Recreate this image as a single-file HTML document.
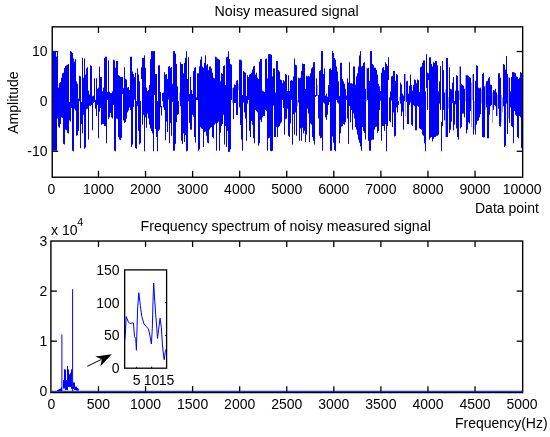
<!DOCTYPE html>
<html><head><meta charset="utf-8"><style>
html,body{margin:0;padding:0;background:#fff;width:550px;height:437px;overflow:hidden}
svg{display:block}
</style></head><body>
<svg width="550" height="437" viewBox="0 0 550 437"><g font-family="&quot;Liberation Sans&quot;, Arial, sans-serif" font-size="14" fill="#000">
<text x="286.6" y="15.5" text-anchor="middle" font-size="14.25">Noisy measured signal</text>
<text x="285.7" y="230.5" text-anchor="middle" font-size="14.2">Frequency spectrum of noisy measured signal</text>
<rect x="52.22" y="26.84" width="470.45" height="150.39" fill="none" stroke="#000" stroke-width="1.4"/>
<text x="51.40" y="194" text-anchor="middle">0</text>
<line x1="98.47" y1="177.23" x2="98.47" y2="170.83" stroke="#000" stroke-width="1.3"/>
<line x1="98.47" y1="26.84" x2="98.47" y2="32.84" stroke="#000" stroke-width="1.3"/>
<text x="98.47" y="194" text-anchor="middle">1000</text>
<line x1="145.54" y1="177.23" x2="145.54" y2="170.83" stroke="#000" stroke-width="1.3"/>
<line x1="145.54" y1="26.84" x2="145.54" y2="32.84" stroke="#000" stroke-width="1.3"/>
<text x="145.54" y="194" text-anchor="middle">2000</text>
<line x1="192.61" y1="177.23" x2="192.61" y2="170.83" stroke="#000" stroke-width="1.3"/>
<line x1="192.61" y1="26.84" x2="192.61" y2="32.84" stroke="#000" stroke-width="1.3"/>
<text x="192.61" y="194" text-anchor="middle">3000</text>
<line x1="239.68" y1="177.23" x2="239.68" y2="170.83" stroke="#000" stroke-width="1.3"/>
<line x1="239.68" y1="26.84" x2="239.68" y2="32.84" stroke="#000" stroke-width="1.3"/>
<text x="239.68" y="194" text-anchor="middle">4000</text>
<line x1="286.75" y1="177.23" x2="286.75" y2="170.83" stroke="#000" stroke-width="1.3"/>
<line x1="286.75" y1="26.84" x2="286.75" y2="32.84" stroke="#000" stroke-width="1.3"/>
<text x="286.75" y="194" text-anchor="middle">5000</text>
<line x1="333.82" y1="177.23" x2="333.82" y2="170.83" stroke="#000" stroke-width="1.3"/>
<line x1="333.82" y1="26.84" x2="333.82" y2="32.84" stroke="#000" stroke-width="1.3"/>
<text x="333.82" y="194" text-anchor="middle">6000</text>
<line x1="380.89" y1="177.23" x2="380.89" y2="170.83" stroke="#000" stroke-width="1.3"/>
<line x1="380.89" y1="26.84" x2="380.89" y2="32.84" stroke="#000" stroke-width="1.3"/>
<text x="380.89" y="194" text-anchor="middle">7000</text>
<line x1="427.96" y1="177.23" x2="427.96" y2="170.83" stroke="#000" stroke-width="1.3"/>
<line x1="427.96" y1="26.84" x2="427.96" y2="32.84" stroke="#000" stroke-width="1.3"/>
<text x="427.96" y="194" text-anchor="middle">8000</text>
<line x1="475.03" y1="177.23" x2="475.03" y2="170.83" stroke="#000" stroke-width="1.3"/>
<line x1="475.03" y1="26.84" x2="475.03" y2="32.84" stroke="#000" stroke-width="1.3"/>
<text x="475.03" y="194" text-anchor="middle">9000</text>
<text x="522.10" y="194" text-anchor="middle">10000</text>
<line x1="52.22" y1="151.27" x2="58.22" y2="151.27" stroke="#000" stroke-width="1.3"/>
<line x1="522.67" y1="151.27" x2="516.67" y2="151.27" stroke="#000" stroke-width="1.3"/>
<text x="47.5" y="155.87" text-anchor="end">-10</text>
<line x1="52.22" y1="101.40" x2="58.22" y2="101.40" stroke="#000" stroke-width="1.3"/>
<line x1="522.67" y1="101.40" x2="516.67" y2="101.40" stroke="#000" stroke-width="1.3"/>
<text x="47.5" y="106.00" text-anchor="end">0</text>
<line x1="52.22" y1="51.53" x2="58.22" y2="51.53" stroke="#000" stroke-width="1.3"/>
<line x1="522.67" y1="51.53" x2="516.67" y2="51.53" stroke="#000" stroke-width="1.3"/>
<text x="47.5" y="56.13" text-anchor="end">10</text>
<path d="M53.5 51.1V150.7M54.5 51.1V150.7M55.5 51.1V150.7M56.5 56.6V150.7M57.5 51.1V118.5M58.5 87.6V126.6M59.5 83.2V127.8M60.5 82.0V124.1M61.5 77.7V117.3M62.5 73.3V118.0M63.5 72.7V143.9M64.5 67.8V144.5M65.5 65.9V129.7M66.5 65.3V130.3M67.5 64.7V132.8M68.5 64.0V133.4M69.5 102.0V120.4M70.5 51.1V121.6M71.5 51.7V108.0M72.5 53.0V150.7M73.5 58.5V151.3M74.5 61.6V108.7M75.5 59.1V110.5M76.5 81.4V135.8M77.5 83.8V135.2M78.5 98.7V130.9M79.5 75.8V101.2M80.5 76.4V148.2M81.5 102.0V124.1M82.5 57.9V133.4M83.5 77.7V114.8M84.5 58.5V148.8M85.5 74.6V147.6M86.5 68.4V109.3M87.5 67.2V108.7M88.5 90.6V139.6M89.5 94.4V105.6M90.5 65.3V106.2M91.5 65.9V105.0M92.5 96.2V130.3M93.5 95.6V103.0M94.5 78.3V101.9M95.5 99.9V108.7M96.5 78.3V116.0M97.5 88.8V105.0M98.5 87.6V138.3M99.5 66.5V111.7M100.5 77.0V108.0M101.5 77.0V124.7M102.5 91.3V124.1M103.5 87.6V124.1M104.5 57.9V126.0M105.5 56.7V126.0M106.5 56.7V143.3M107.5 92.0V100.0M108.5 60.4V119.2M109.5 91.9V117.3M110.5 93.1V113.0M111.5 93.1V117.3M112.5 91.3V118.5M113.5 59.7V105.0M114.5 60.4V150.7M115.5 67.8V151.3M116.5 61.0V118.5M117.5 61.0V119.2M118.5 75.2V137.0M119.5 75.8V139.6M120.5 77.0V140.2M121.5 77.0V137.7M122.5 77.0V94.0M123.5 88.0V120.4M124.5 67.2V122.9M125.5 78.9V122.2M126.5 79.5V118.5M127.5 87.6V112.4M128.5 87.0V110.5M129.5 90.0V107.4M130.5 56.7V109.9M131.5 56.7V147.0M132.5 71.5V144.5M133.5 74.0V107.0M134.5 77.0V99.6M135.5 72.7V148.2M136.5 101.0V148.8M137.5 68.4V106.2M138.5 74.6V130.9M139.5 81.4V144.5M140.5 101.0V143.3M141.5 67.2V79.0M142.5 57.9V124.7M143.5 57.9V114.8M144.5 55.4V151.3M145.5 67.8V117.3M146.5 87.6V127.8M147.5 91.3V113.6M148.5 90.0V118.5M149.5 85.0V124.7M150.5 59.1V128.4M151.5 51.1V130.9M152.5 51.1V133.4M153.5 51.1V151.3M154.5 51.1V95.0M155.5 74.0V129.0M156.5 74.0V137.0M157.5 101.0V151.3M158.5 65.3V130.9M159.5 65.3V129.7M160.5 91.9V107.4M161.5 106.0V115.5M162.5 93.0V101.2M163.5 92.5V107.4M164.5 72.1V110.0M165.5 74.6V140.2M166.5 74.0V121.6M167.5 78.9V132.1M168.5 66.5V99.6M169.5 65.9V143.3M170.5 67.8V122.9M171.5 67.2V135.8M172.5 83.8V101.9M173.5 51.1V150.7M174.5 51.1V150.7M175.5 53.6V143.9M176.5 64.0V122.2M177.5 86.3V114.8M178.5 101.0V114.2M180.5 62.2V106.2M181.5 64.0V140.8M182.5 64.0V143.9M183.5 73.3V133.4M184.5 62.8V142.0M185.5 57.9V135.2M186.5 51.1V151.3M187.5 78.9V150.7M188.5 57.3V101.2M189.5 94.0V122.9M190.5 77.0V129.7M191.5 90.0V129.7M192.5 94.0V114.8M193.5 70.9V116.7M194.5 67.8V137.0M195.5 67.2V142.6M196.5 97.4V100.0M197.5 73.3V100.0M198.5 73.3V150.7M199.5 66.5V149.4M200.5 59.7V127.2M201.5 56.7V128.4M202.5 66.5V129.0M203.5 67.8V147.0M204.5 62.8V132.1M205.5 55.4V131.5M206.5 65.3V135.8M207.5 64.0V142.6M208.5 70.2V143.3M209.5 66.5V129.7M210.5 66.5V127.8M211.5 68.4V127.2M212.5 72.7V137.0M213.5 77.7V138.3M214.5 78.3V124.7M215.5 56.7V123.5M216.5 57.3V150.7M217.5 58.5V122.9M218.5 59.1V121.6M219.5 59.7V150.7M220.5 81.4V132.8M221.5 73.3V126.0M222.5 74.0V124.1M223.5 65.9V114.8M224.5 65.3V144.5M225.5 85.0V126.0M226.5 57.3V147.0M227.5 56.7V130.9M228.5 51.1V151.9M229.5 59.1V151.9M230.5 64.0V149.4M231.5 64.7V100.0M233.5 87.6V119.2M234.5 84.5V103.0M235.5 85.0V103.0M236.5 80.8V115.0M237.5 80.1V115.0M239.5 59.7V107.4M240.5 59.7V125.0M241.5 60.4V139.6M242.5 95.0V150.7M243.5 70.9V102.5M244.5 72.1V112.4M245.5 72.7V118.5M246.5 96.0V140.8M247.5 75.2V103.7M248.5 77.0V100.0M249.5 74.6V130.9M250.5 74.0V137.0M251.5 72.7V121.0M252.5 69.6V124.7M253.5 66.5V138.3M254.5 65.9V143.3M255.5 74.6V109.9M256.5 72.7V111.1M257.5 77.7V112.4M258.5 78.9V145.7M259.5 61.6V143.3M260.5 59.1V119.8M261.5 59.1V122.2M262.5 90.6V117.3M263.5 91.3V116.0M264.5 91.9V116.0M265.5 59.1V109.9M266.5 58.5V111.1M267.5 78.3V150.7M268.5 54.2V138.3M269.5 54.2V137.7M270.5 54.2V150.7M271.5 54.8V151.3M272.5 76.4V150.7M273.5 68.4V105.6M274.5 68.4V137.0M275.5 92.5V137.0M276.5 61.0V127.2M277.5 61.0V137.0M278.5 70.2V127.2M279.5 71.5V126.0M280.5 79.5V123.5M281.5 80.1V122.2M282.5 83.2V100.0M283.5 80.1V108.0M284.5 81.4V134.6M285.5 74.0V119.2M286.5 74.6V118.5M287.5 91.0V108.7M288.5 75.2V135.8M289.5 91.0V137.0M290.5 80.8V123.5M291.5 80.1V100.0M292.5 80.8V144.5M293.5 76.4V114.2M294.5 58.5V134.6M295.5 64.7V112.4M296.5 65.3V135.8M298.5 77.7V102.5M299.5 78.3V140.8M300.5 77.7V128.4M301.5 70.9V140.8M302.5 63.5V127.8M303.5 64.0V133.4M304.5 64.0V130.9M305.5 88.8V142.0M306.5 75.8V134.6M307.5 76.4V108.7M308.5 75.8V113.6M309.5 76.4V142.0M310.5 73.3V123.5M311.5 68.4V124.7M312.5 67.2V137.0M313.5 62.2V140.8M314.5 62.2V144.5M315.5 95.0V97.0M316.5 78.3V96.0M318.5 95.0V118.5M319.5 70.9V135.8M320.5 70.2V138.3M321.5 51.1V137.7M322.5 51.1V150.7M323.5 74.0V102.5M324.5 68.4V103.7M325.5 95.6V117.3M326.5 93.7V119.8M327.5 96.8V114.8M328.5 85.0V105.0M329.5 69.0V102.0M330.5 68.4V150.7M331.5 70.0V150.7M332.5 51.1V136.5M333.5 53.0V142.6M334.5 57.9V150.0M335.5 59.7V151.3M336.5 66.5V100.0M337.5 71.5V102.5M338.5 81.4V103.7M339.5 96.0V143.3M340.5 62.8V133.4M341.5 62.8V126.6M342.5 78.9V126.0M343.5 81.4V124.1M344.5 83.8V124.7M345.5 88.8V122.2M346.5 95.6V100.0M347.5 78.3V118.5M348.5 82.6V143.9M349.5 62.2V106.2M350.5 83.2V122.2M351.5 83.2V109.9M352.5 83.8V129.7M353.5 66.5V113.6M354.5 66.5V118.5M355.5 84.5V127.2M356.5 76.4V129.7M357.5 73.3V134.6M358.5 66.5V139.6M359.5 55.4V142.6M360.5 51.1V146.4M361.5 66.5V150.7M362.5 65.9V127.2M363.5 62.8V130.9M364.5 62.2V132.8M365.5 88.8V139.6M367.5 68.4V100.0M368.5 67.8V140.8M369.5 80.8V150.7M370.5 51.1V150.7M371.5 51.1V140.2M372.5 64.0V139.6M373.5 65.3V139.6M374.5 67.8V129.7M375.5 67.8V127.2M376.5 70.0V126.6M377.5 74.6V132.8M378.5 83.8V130.9M379.5 86.3V109.9M380.5 91.0V100.7M381.5 72.7V140.8M382.5 67.8V126.0M383.5 67.2V126.0M384.5 70.2V130.9M385.5 62.2V124.1M386.5 64.0V151.3M387.5 65.9V126.0M388.5 57.3V80.0M389.5 97.4V121.0M390.5 91.3V122.2M391.5 76.4V100.6M392.5 75.8V127.2M393.5 70.9V112.4M394.5 70.9V136.5M395.5 80.8V135.8M396.5 74.0V107.4M397.5 74.6V112.4M398.5 101.0V105.0M400.5 82.6V103.7M401.5 84.5V116.0M402.5 93.7V111.7M403.5 95.6V129.7M404.5 74.0V101.2M406.5 81.4V101.9M407.5 80.8V124.1M408.5 93.7V124.1M409.5 85.7V105.0M410.5 74.6V102.5M411.5 85.0V124.7M412.5 90.6V126.0M413.5 85.0V105.0M414.5 79.5V106.2M415.5 80.1V130.3M416.5 83.2V130.3M417.5 79.5V106.2M418.5 80.1V106.8M419.5 91.9V128.4M420.5 67.2V129.0M421.5 66.5V129.7M422.5 62.8V134.6M423.5 60.4V135.8M424.5 60.4V143.3M425.5 91.3V151.3M426.5 54.2V88.0M427.5 72.7V109.9M428.5 73.3V80.0M429.5 57.3V139.6M430.5 57.3V137.7M431.5 64.0V137.0M432.5 66.5V141.4M433.5 62.2V138.9M434.5 62.8V137.0M435.5 61.0V137.0M436.5 61.0V135.8M437.5 65.3V135.8M438.5 91.3V134.6M439.5 81.4V103.7M440.5 65.9V109.9M441.5 122.0V151.3M442.5 61.0V126.0M443.5 70.2V109.9M444.5 92.5V120.4M446.5 57.9V137.0M447.5 57.9V137.0M449.5 67.2V132.8M450.5 88.8V129.7M451.5 89.4V121.6M452.5 82.6V103.1M453.5 77.0V130.3M454.5 101.0V124.7M455.5 90.6V104.3M456.5 75.2V128.4M457.5 75.8V137.0M458.5 90.6V139.6M460.5 66.5V128.4M461.5 83.8V127.2M462.5 85.0V113.6M463.5 85.7V113.6M464.5 88.8V117.3M466.5 75.2V133.4M467.5 75.2V129.7M468.5 75.8V122.2M469.5 77.0V123.5M470.5 77.7V111.1M473.5 74.0V134.6M475.5 80.8V134.6M476.5 65.3V124.7M477.5 65.9V121.0M478.5 87.6V120.4M479.5 88.2V117.3M480.5 87.6V114.2M482.5 74.0V137.0M483.5 72.7V137.7M484.5 86.3V137.0M486.5 81.4V107.4M487.5 80.8V138.3M488.5 78.3V138.3M489.5 77.0V114.8M490.5 84.5V106.2M491.5 85.0V105.0M493.5 90.0V109.9M494.5 90.6V105.0M495.5 88.8V106.2M496.5 92.5V116.0M498.5 73.3V108.7M499.5 73.3V126.0M500.5 77.7V126.6M503.5 64.0V106.2M504.5 64.7V147.0M505.5 69.6V145.7M506.5 56.0V103.7M507.5 74.0V134.0M509.5 77.7V122.9M510.5 91.3V107.4M511.5 77.0V126.0M512.5 72.1V127.2M513.5 72.1V143.3M514.5 72.7V111.1M515.5 73.3V114.8M516.5 76.4V116.0M517.5 77.0V137.0M518.5 78.9V138.3M519.5 77.7V116.0M520.5 72.1V117.3M521.5 72.7V148.2" stroke="#0000ff" stroke-width="1" fill="none"/><path d="M179.5 92.5V101.2M232.5 88.0V103.0M238.5 84.0V90.0M297.5 100.0V106.0M317.5 85.0V96.0M366.5 67.8V101.2M399.5 96.8V101.2M405.5 74.0V116.0M445.5 89.4V137.0M448.5 97.0V108.7M459.5 66.5V100.0M465.5 75.2V101.2M471.5 82.6V127.2M472.5 74.6V100.0M474.5 101.0V129.7M481.5 88.8V103.7M485.5 84.5V109.9M492.5 92.5V122.9M497.5 95.0V116.0M501.5 95.0V122.2M502.5 97.4V112.4M508.5 77.0V118.5" stroke="#9a9aff" stroke-width="1" fill="none"/>
<text x="475" y="212.5">Data point</text>
<text transform="translate(18.1,102.6) rotate(-90)" text-anchor="middle">Amplitude</text>
<rect x="50.91" y="241.03" width="471.76" height="151.52" fill="none" stroke="#000" stroke-width="1.4"/>
<text x="51.40" y="408.8" text-anchor="middle">0</text>
<line x1="98.47" y1="392.55" x2="98.47" y2="386.15" stroke="#000" stroke-width="1.3"/>
<line x1="98.47" y1="241.03" x2="98.47" y2="247.03" stroke="#000" stroke-width="1.3"/>
<text x="98.47" y="408.8" text-anchor="middle">500</text>
<line x1="145.54" y1="392.55" x2="145.54" y2="386.15" stroke="#000" stroke-width="1.3"/>
<line x1="145.54" y1="241.03" x2="145.54" y2="247.03" stroke="#000" stroke-width="1.3"/>
<text x="145.54" y="408.8" text-anchor="middle">1000</text>
<line x1="192.61" y1="392.55" x2="192.61" y2="386.15" stroke="#000" stroke-width="1.3"/>
<line x1="192.61" y1="241.03" x2="192.61" y2="247.03" stroke="#000" stroke-width="1.3"/>
<text x="192.61" y="408.8" text-anchor="middle">1500</text>
<line x1="239.68" y1="392.55" x2="239.68" y2="386.15" stroke="#000" stroke-width="1.3"/>
<line x1="239.68" y1="241.03" x2="239.68" y2="247.03" stroke="#000" stroke-width="1.3"/>
<text x="239.68" y="408.8" text-anchor="middle">2000</text>
<line x1="286.75" y1="392.55" x2="286.75" y2="386.15" stroke="#000" stroke-width="1.3"/>
<line x1="286.75" y1="241.03" x2="286.75" y2="247.03" stroke="#000" stroke-width="1.3"/>
<text x="286.75" y="408.8" text-anchor="middle">2500</text>
<line x1="333.82" y1="392.55" x2="333.82" y2="386.15" stroke="#000" stroke-width="1.3"/>
<line x1="333.82" y1="241.03" x2="333.82" y2="247.03" stroke="#000" stroke-width="1.3"/>
<text x="333.82" y="408.8" text-anchor="middle">3000</text>
<line x1="380.89" y1="392.55" x2="380.89" y2="386.15" stroke="#000" stroke-width="1.3"/>
<line x1="380.89" y1="241.03" x2="380.89" y2="247.03" stroke="#000" stroke-width="1.3"/>
<text x="380.89" y="408.8" text-anchor="middle">3500</text>
<line x1="427.96" y1="392.55" x2="427.96" y2="386.15" stroke="#000" stroke-width="1.3"/>
<line x1="427.96" y1="241.03" x2="427.96" y2="247.03" stroke="#000" stroke-width="1.3"/>
<text x="427.96" y="408.8" text-anchor="middle">4000</text>
<line x1="475.03" y1="392.55" x2="475.03" y2="386.15" stroke="#000" stroke-width="1.3"/>
<line x1="475.03" y1="241.03" x2="475.03" y2="247.03" stroke="#000" stroke-width="1.3"/>
<text x="475.03" y="408.8" text-anchor="middle">4500</text>
<text x="522.10" y="408.8" text-anchor="middle">5000</text>
<text x="47.3" y="395.90" text-anchor="end">0</text>
<line x1="50.91" y1="341.20" x2="56.91" y2="341.20" stroke="#000" stroke-width="1.3"/>
<line x1="522.67" y1="341.20" x2="516.67" y2="341.20" stroke="#000" stroke-width="1.3"/>
<text x="47.3" y="345.80" text-anchor="end">1</text>
<line x1="50.91" y1="291.10" x2="56.91" y2="291.10" stroke="#000" stroke-width="1.3"/>
<line x1="522.67" y1="291.10" x2="516.67" y2="291.10" stroke="#000" stroke-width="1.3"/>
<text x="47.3" y="295.70" text-anchor="end">2</text>
<text x="47.3" y="245.60" text-anchor="end">3</text>
<path d="M57.5 390V391M58.5 389.5V391M59.5 389V391M60.5 388.5V391M61.5 387.5V391M63.5 380V388.5M64.5 369.3V388.5M65.5 369.5V390M66.5 380V390M67.5 366V390M68.5 369.3V387M69.5 374.4V387M70.5 372.8V387M71.5 369.3V389M73.5 382.5V389M74.5 382.5V390M75.5 386.8V390M76.5 386.4V390.5M77.5 388V390.5M78.5 388.7V390.5M61.9 334.5V391M72.6 289.2V391" stroke="#0000ff" stroke-width="1" fill="none"/><line x1="51.2" y1="391.3" x2="522.4" y2="391.3" stroke="#0000ff"/>
<rect x="124.67" y="269.9" width="41.93" height="98.30" fill="#fff" stroke="none"/>
<polyline points="124.7,340 125.3,334.8 126.2,316.5 128.4,322 130.2,323.8 132,322.9 133.4,322.9 134.5,336.6 135.7,338.4 136.4,350.3 137.6,309 138.8,292.7 140.3,305.5 141.8,316.5 144,324 146.2,326.5 148.5,329 150,336 151.4,344 152.3,328.3 153,301.4 153.7,283 154.5,296.9 155.7,314.8 156.8,328.3 157.5,338.4 158.6,329.4 160.1,318.2 161.3,327.2 162.4,344 163.5,355.2 164.2,359.7 165.3,351.8 166.4,348.5" fill="none" stroke="#0000ff" stroke-width="1"/>
<rect x="124.67" y="269.9" width="41.93" height="98.30" fill="none" stroke="#000" stroke-width="1.3"/>
<line x1="136.65" y1="368.2" x2="136.65" y2="366.7" stroke="#000"/>
<line x1="151.62" y1="368.2" x2="151.62" y2="366.7" stroke="#000"/>
<line x1="166.6" y1="335.43" x2="165.1" y2="335.43" stroke="#000"/>
<line x1="166.6" y1="302.67" x2="165.1" y2="302.67" stroke="#000"/>
<text x="119.6" y="373.20" text-anchor="end">0</text>
<text x="119.6" y="340.43" text-anchor="end">50</text>
<text x="119.6" y="307.67" text-anchor="end">100</text>
<text x="119.6" y="274.90" text-anchor="end">150</text>
<text x="136.65" y="384.5" text-anchor="middle">5</text>
<text x="151.62" y="384.5" text-anchor="middle">10</text>
<text x="166.60" y="384.5" text-anchor="middle">15</text>
<line x1="87.2" y1="366.3" x2="101.5" y2="359.4" stroke="#000" stroke-width="1"/>
<polygon points="111.8,354.3 95.3,356.5 101.8,359.3 100.5,366.3" fill="#000"/>
<text x="51" y="234.9">x 10</text>
<text x="77.3" y="226.2" font-size="10.5">4</text>
<text x="455" y="427.8">Frequency(Hz)</text>
</g></svg>
</body></html>
